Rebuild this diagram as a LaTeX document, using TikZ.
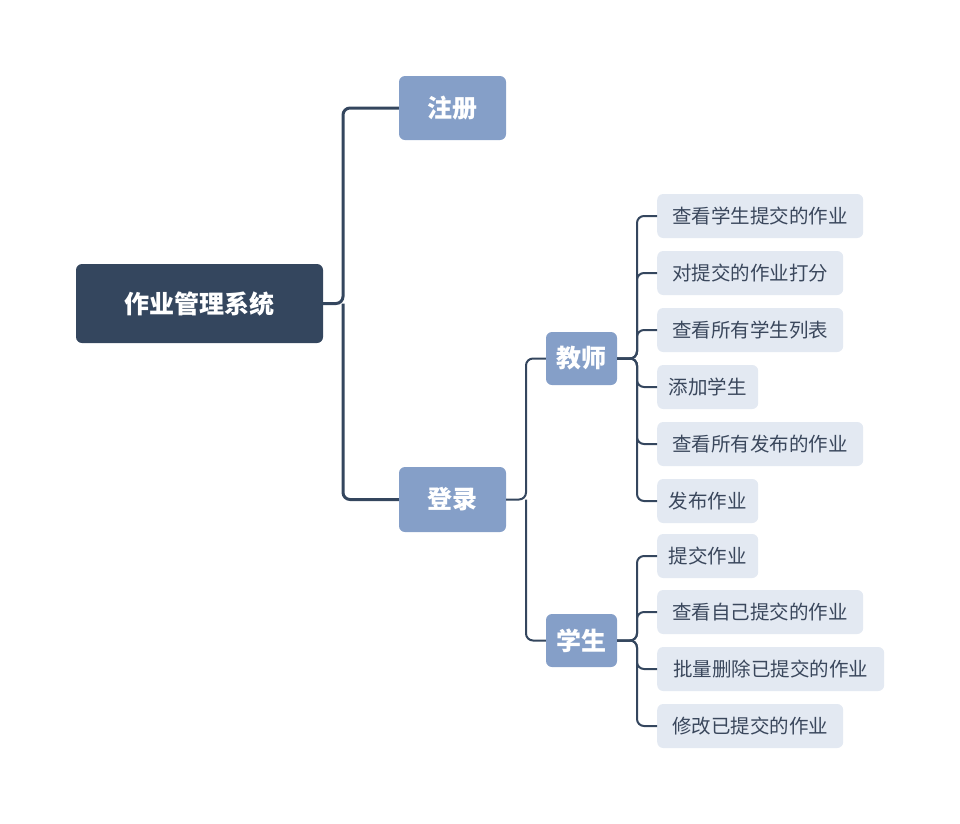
\documentclass[tikz,border=0pt]{standalone}
\usepackage{fontspec}
\newfontfamily\cjk{Noto Sans CJK SC}
\begin{document}
\begin{tikzpicture}[x=1pt,y=-1pt,
  root/.style={fill=rootc,rounded corners=6pt,text=white,font=\cjk\bfseries\fontsize{25}{28}\selectfont,inner sep=0pt},
  mid/.style={fill=midc,rounded corners=6pt,text=white,font=\cjk\bfseries\fontsize{25}{28}\selectfont,inner sep=0pt},
  leaf/.style={fill=leafc,rounded corners=6pt,text=leaft,font=\cjk\fontsize{19.5}{22}\selectfont,inner sep=0pt,minimum height=44pt,anchor=west},
  thick/.style={draw=linec,line width=3pt,rounded corners=7pt},
  thin/.style={draw=linec,line width=2pt,rounded corners=7pt}]
\definecolor{rootc}{HTML}{34465E}
\definecolor{midc}{HTML}{859FC8}
\definecolor{leafc}{HTML}{E3E9F2}
\definecolor{leaft}{HTML}{3A475C}
\definecolor{linec}{HTML}{34465E}
\useasboundingbox (0,0) rectangle (960,823);
\node[root,minimum width=247pt,minimum height=79pt] (r) at (199.5,303.5) {作业管理系统};
\node[mid,minimum width=107pt,minimum height=64pt] (zc) at (452.5,108) {注册};
\node[mid,minimum width=107pt,minimum height=65pt] (dl) at (452.5,499.5) {登录};
\node[mid,minimum width=71pt,minimum height=53pt] (js) at (581.5,358.5) {教师};
\node[mid,minimum width=71pt,minimum height=53pt] (xs) at (581.5,640.5) {学生};
\node[leaf,minimum width=206pt] (t1) at (657,216) {查看学生提交的作业};
\node[leaf,minimum width=186pt] (t2) at (657,273) {对提交的作业打分};
\node[leaf,minimum width=186pt] (t3) at (657,330) {查看所有学生列表};
\node[leaf,minimum width=101pt] (t4) at (657,387) {添加学生};
\node[leaf,minimum width=206pt] (t5) at (657,444) {查看所有发布的作业};
\node[leaf,minimum width=101pt] (t6) at (657,501) {发布作业};
\node[leaf,minimum width=101pt] (s1) at (657,556) {提交作业};
\node[leaf,minimum width=206pt] (s2) at (657,612) {查看自己提交的作业};
\node[leaf,minimum width=227pt] (s3) at (657,669) {批量删除已提交的作业};
\node[leaf,minimum width=186pt] (s4) at (657,726) {修改已提交的作业};
\draw[thick] (r.east) -- (343,303.5) |- (zc.west);
\draw[thick] (343,303.5) |- (dl.west);
\draw[thin] (dl.east) -- (526,499.5) |- (js.west);
\draw[thin] (526,499.5) |- (xs.west);
\foreach \n in {t1,t2,t3,t4,t5,t6}{\draw[thin] (js.east) -- (637,358.5) |- (\n.west);}
\foreach \n in {s1,s2,s3,s4}{\draw[thin] (xs.east) -- (637,640.5) |- (\n.west);}
\end{tikzpicture}
\end{document}
